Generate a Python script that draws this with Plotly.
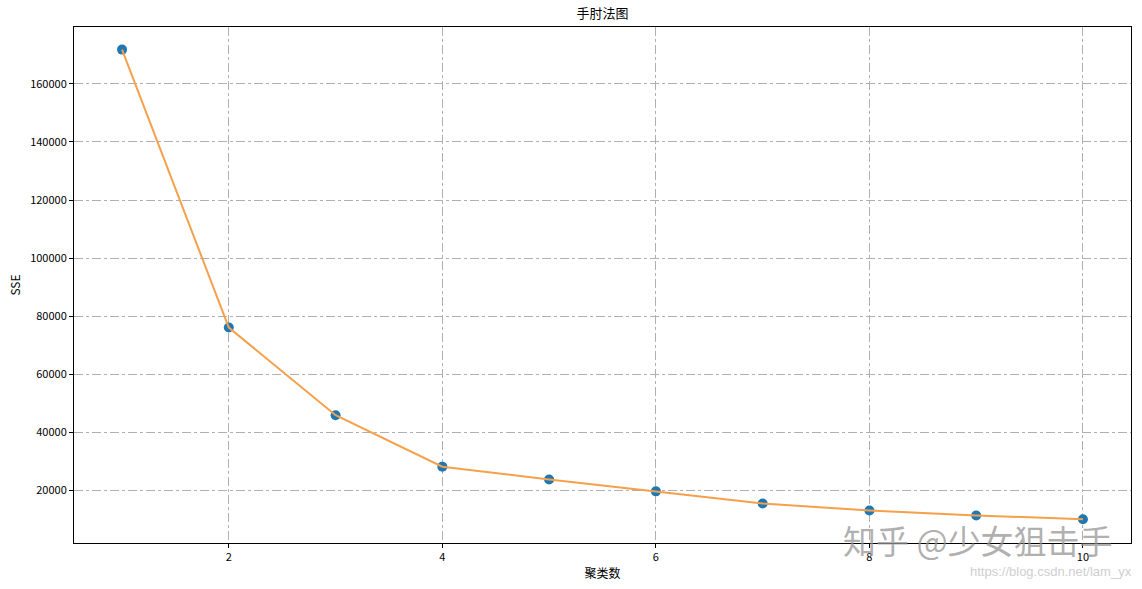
import plotly.graph_objects as go

k_values = [1, 2, 3, 4, 5, 6, 7, 8, 9, 10]
sse_values = [171800, 76100, 45900, 28200, 23800, 19700, 15500, 13100, 11400, 10100]
x_ticks = [2, 4, 6, 8, 10]
y_ticks = [20000, 40000, 60000, 80000, 100000, 120000, 140000, 160000]

FONT = "Noto Sans CJK SC, SimHei, DejaVu Sans"

fig = go.Figure()
fig.add_trace(go.Scatter(x=k_values, y=sse_values, mode="markers",
                         marker=dict(color="#1f77b4", size=10, line=dict(width=0)),
                         showlegend=False))
fig.add_trace(go.Scatter(x=k_values, y=sse_values, mode="lines",
                         line=dict(color="#f5a04a", width=2),
                         showlegend=False))

axis_common = dict(showline=True, linecolor="black", linewidth=1, mirror=True,
                   ticks="outside", ticklen=4, tickcolor="black",
                   showgrid=True, gridcolor="#b0b0b0", griddash="dashdot", gridwidth=1,
                   zeroline=False, tickfont=dict(family=FONT, size=11, color="black"))

fig.update_xaxes(range=[0.55, 10.45], tickvals=x_ticks,
                 title=dict(text="聚类数", font=dict(family=FONT, size=12, color="black"), standoff=6),
                 **axis_common)
fig.update_yaxes(range=[1915, 179585], tickvals=y_ticks, tickformat="d",
                 title=dict(text="SSE", font=dict(family=FONT, size=12, color="black"), standoff=6),
                 **axis_common)

fig.update_layout(
    width=1142, height=589,
    margin=dict(l=74, r=11, t=27, b=46),
    plot_bgcolor="white", paper_bgcolor="white",
    title=dict(text="手肘法图", xref="paper", x=0.5, xanchor="center", y=0.985, yanchor="top",
               font=dict(family=FONT, size=13, color="black")),
    annotations=[
        dict(text="知乎 @少女狙击手", xref="paper", yref="paper", x=0.855, y=0.005,
             xanchor="center", yanchor="middle", showarrow=False,
             font=dict(family=FONT, size=33, color="rgba(150,150,150,0.75)")),
        dict(text="https://blog.csdn.net/lam_yx", xref="paper", yref="paper", x=1.003, y=-0.055,
             xanchor="right", yanchor="middle", showarrow=False,
             font=dict(family="Liberation Sans, Arial", size=13, color="rgba(200,200,200,0.9)")),
    ],
)

fig.write_html("out.html", config={"displayModeBar": False},
               post_script="document.body.style.margin='0';document.body.style.overflow='hidden';")
